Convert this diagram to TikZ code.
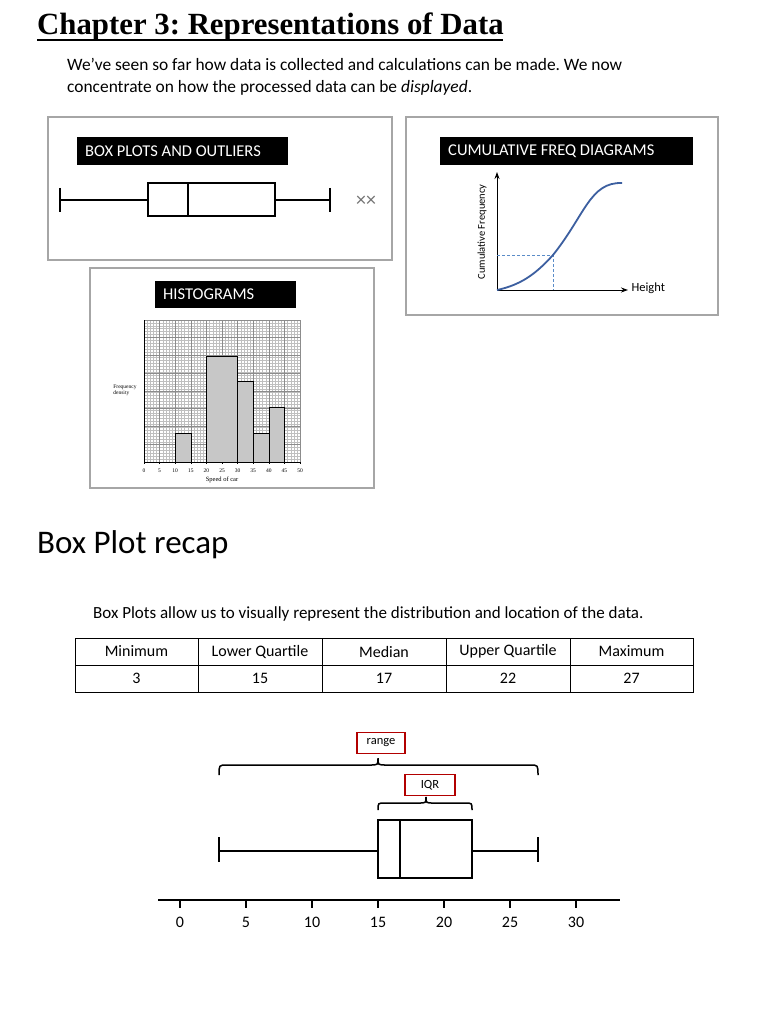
\documentclass[tikz,border=0pt]{standalone}
\usepackage{fontspec}
\setmainfont{Carlito}
\newfontfamily\titlefont{Liberation Serif}
\usetikzlibrary{arrows.meta}
\definecolor{curveblue}{RGB}{60,95,160}
\definecolor{dashblue}{RGB}{90,140,200}
\begin{document}
\frenchspacing
\begin{tikzpicture}[x=1pt,y=-1pt,
  panel/.style={draw=black!35,line width=1.2pt,fill=white},
  blab/.style={fill=black,text=white,font=\fontsize{16.5}{17}\selectfont,anchor=west,inner sep=0pt},
  plot/.style={line width=1.3pt},
  redbox/.style={draw=red!70!black,line width=1.2pt,fill=white,font=\fontsize{12.5}{13}\selectfont,minimum height=21pt,inner sep=3pt}]
\useasboundingbox (0,0) rectangle (768,1024);
\node[anchor=west,font=\titlefont\bfseries\fontsize{30.8}{32}\selectfont,inner sep=0pt] (title) at (37,27) {Chapter 3: Representations of Data};
\draw[line width=1.5pt] (37,40)--(503,40);
\node[anchor=north west,align=left,font=\fontsize{17.4}{22}\selectfont,inner sep=0pt] (intro) at (67,58) {We’ve seen so far how data is collected and calculations can be made. We now\\concentrate on how the processed data can be \textit{displayed}.};
% panel 1
\draw[panel] (48,117) rectangle (392,260);
\fill (77,137) rectangle (288,165);
\node[blab] (l1) at (85,151) {BOX PLOTS AND OUTLIERS};
\draw[plot] (60,188)--(60,212) (60,200)--(148,200) (275,200)--(330,200) (330,188)--(330,212);
\draw[plot] (148,183) rectangle (275,216) (188,183)--(188,216);
\node[text=black!55,font=\fontsize{20}{20}\selectfont] (xx) at (366,201) {××};
% panel 2
\draw[panel] (406,117) rectangle (718,315);
\fill (440,137) rectangle (693,165);
\node[blab] (l2) at (448,151) {CUMULATIVE FREQ DIAGRAMS};
\coordinate (o) at (497,290);
\coordinate (yt) at (497,172);
\coordinate (xt) at (628,290);
\draw[line width=0.9pt,-{Stealth[length=7pt,width=5pt]}] (o)--(yt);
\draw[line width=0.9pt,-{Stealth[length=7pt,width=5pt]}] (o)--(xt);
\node[anchor=west,font=\fontsize{12.5}{13}\selectfont] (h) at (628,288) {Height};
\node[rotate=90,font=\fontsize{10.5}{11}\selectfont] (cf) at (482,232) {Cumulative Frequency};
\draw[dashblue,densely dashed,line width=0.7pt] (497,255)--(553,255)--(553,290);
\draw[curveblue,line width=1.8pt] (497,290) .. controls (520,285) and (535,275) .. (553,255) .. controls (585,215) and (590,182) .. (622,183);
% panel 3
\draw[panel] (90,268) rectangle (374,488);
\fill (155,281) rectangle (296,308);
\node[blab] (l3) at (163,294) {HISTOGRAMS};
\begin{scope}[shift={(144,462)},x=3.12pt,y=2.9pt]
\draw[black!25,line width=0.25pt,step=1] (0,0) grid (50,49);
\draw[black!45,line width=0.5pt,xstep=5,ystep=49/8] (0,0) grid (50,49);
\draw[fill=black!22,line width=0.6pt] (10,0) rectangle (15,10) (20,0) rectangle (30,36.5) (30,0) rectangle (35,28) (35,0) rectangle (40,10) (40,0) rectangle (45,19);
\draw[line width=0.9pt] (0,0)--(0,49) (0,0)--(50,0);
\foreach \v in {0,5,...,50}{\draw[line width=0.6pt] (\v,0)--(\v,-0.8); \node[font=\titlefont\fontsize{5.5}{5}\selectfont,inner sep=0pt] at (\v,-3) {\v};}
\node[font=\titlefont\fontsize{6.5}{6}\selectfont] at (25,-6.3) {Speed of car};
\end{scope}
\node[align=left,font=\titlefont\fontsize{5.5}{6}\selectfont] (fd) at (125,390) {Frequency\\density};
% recap
\node[anchor=west,font=\fontsize{33}{34}\selectfont,inner sep=0pt] (recap) at (37,545) {Box Plot recap};
\node[anchor=west,font=\fontsize{17}{18}\selectfont,inner sep=0pt] (sent) at (93,614) {Box Plots allow us to visually represent the distribution and location of the data.};
\draw[line width=0.8pt] (75,638) rectangle (693,692) (75,665)--(693,665);
\foreach \x in {198,322,446,570}{\draw[line width=0.8pt] (\x,638)--(\x,692);}
\foreach \c/\a/\b in {136.5/Minimum/3,260/Lower Quartile/15,384/Median/17,508/Upper Quartile/22,631.5/Maximum/27}{
  \node[font=\fontsize{16}{17}\selectfont] at (\c,651.5) {\a};
  \node[font=\fontsize{16}{17}\selectfont] at (\c,678.5) {\b};}
% main box plot
\draw[line width=1.5pt] (158,900)--(620,900);
\foreach \v in {0,5,...,30}{\draw[line width=1.5pt] (180+13.2*\v,900)--(180+13.2*\v,908);
  \node[font=\fontsize{16}{17}\selectfont] at (180+13.2*\v,922) {\v};}
\draw[plot,line width=1.6pt] (219,837)--(219,862) (219,851)--(378,851) (472,851)--(538,851) (538,837)--(538,862);
\draw[plot,line width=1.6pt] (378,820) rectangle (472,878) (400,820)--(400,878);
\draw[line width=1.5pt] (219,775) .. controls (219,765) .. (227,765) -- (370,765) .. controls (378,765) .. (378,758) .. controls (378,765) .. (386,765) -- (530,765) .. controls (538,765) .. (538,775);
\draw[line width=1.5pt] (378,810) .. controls (378,803) .. (385,803) -- (419,803) .. controls (426,803) .. (426,797) .. controls (426,803) .. (433,803) -- (465,803) .. controls (472,803) .. (472,810);
\node[redbox,minimum width=48pt] (range) at (381,743) {range};
\node[redbox,minimum width=50pt] (iqr) at (430,785) {IQR};
\end{tikzpicture}
\end{document}
